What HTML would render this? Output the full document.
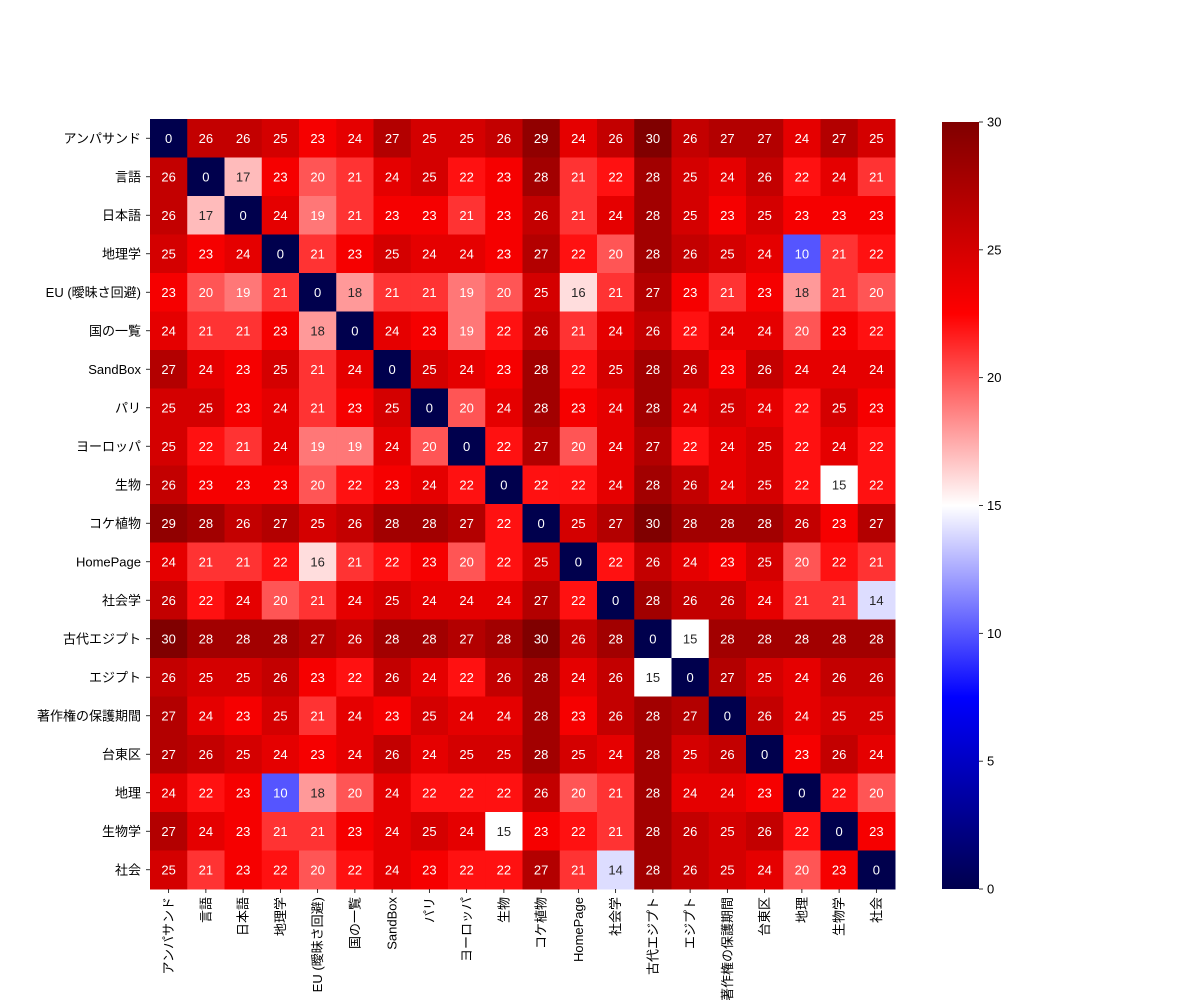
<!DOCTYPE html>
<html><head><meta charset="utf-8"><style>
html,body{margin:0;padding:0;background:#fff}
svg text{font-family:"Liberation Sans","Noto Sans CJK JP",sans-serif;font-size:13px}
</style></head><body>
<svg id="chart" width="1200" height="1000" xmlns="http://www.w3.org/2000/svg">
<defs><linearGradient id="cbg" x1="0" y1="1" x2="0" y2="0">
<stop offset="0" stop-color="rgb(0,0,77)"/><stop offset="0.25" stop-color="rgb(0,0,255)"/><stop offset="0.5" stop-color="rgb(255,255,255)"/><stop offset="0.75" stop-color="rgb(255,0,0)"/><stop offset="1" stop-color="rgb(128,0,0)"/>
</linearGradient></defs>
<g id="cells"></g>
<g id="xlabels"></g>
<g id="ylabels"></g>
<g id="cbar"></g>
</svg>
<script>
const labels = ["アンパサンド","言語","日本語","地理学","EU (曖昧さ回避)","国の一覧","SandBox","パリ","ヨーロッパ","生物","コケ植物","HomePage","社会学","古代エジプト","エジプト","著作権の保護期間","台東区","地理","生物学","社会"];
const values = [
[0,26,26,25,23,24,27,25,25,26,29,24,26,30,26,27,27,24,27,25],
[26,0,17,23,20,21,24,25,22,23,28,21,22,28,25,24,26,22,24,21],
[26,17,0,24,19,21,23,23,21,23,26,21,24,28,25,23,25,23,23,23],
[25,23,24,0,21,23,25,24,24,23,27,22,20,28,26,25,24,10,21,22],
[23,20,19,21,0,18,21,21,19,20,25,16,21,27,23,21,23,18,21,20],
[24,21,21,23,18,0,24,23,19,22,26,21,24,26,22,24,24,20,23,22],
[27,24,23,25,21,24,0,25,24,23,28,22,25,28,26,23,26,24,24,24],
[25,25,23,24,21,23,25,0,20,24,28,23,24,28,24,25,24,22,25,23],
[25,22,21,24,19,19,24,20,0,22,27,20,24,27,22,24,25,22,24,22],
[26,23,23,23,20,22,23,24,22,0,22,22,24,28,26,24,25,22,15,22],
[29,28,26,27,25,26,28,28,27,22,0,25,27,30,28,28,28,26,23,27],
[24,21,21,22,16,21,22,23,20,22,25,0,22,26,24,23,25,20,22,21],
[26,22,24,20,21,24,25,24,24,24,27,22,0,28,26,26,24,21,21,14],
[30,28,28,28,27,26,28,28,27,28,30,26,28,0,15,28,28,28,28,28],
[26,25,25,26,23,22,26,24,22,26,28,24,26,15,0,27,25,24,26,26],
[27,24,23,25,21,24,23,25,24,24,28,23,26,28,27,0,26,24,25,25],
[27,26,25,24,23,24,26,24,25,25,28,25,24,28,25,26,0,23,26,24],
[24,22,23,10,18,20,24,22,22,22,26,20,21,28,24,24,23,0,22,20],
[27,24,23,21,21,23,24,25,24,15,23,22,21,28,26,25,26,22,0,23],
[25,21,23,22,20,22,24,23,22,22,27,21,14,28,26,25,24,20,23,0]
];
const cbTicks = [0,5,10,15,20,25,30];
const vmin=0, vmax=30;
const X0=150, X1=895, Y0=119, Y1=889;
const n=labels.length, cw=(X1-X0)/n, ch=(Y1-Y0)/n;
const CB_X=942, CB_W=37, CB_T=122, CB_B=889;
const NS="http://www.w3.org/2000/svg";
function xs(i){return X0+i*cw;}
function ys(i){return Y0+i*ch;}
function cbY(v){return CB_B-(v-vmin)/(vmax-vmin)*(CB_B-CB_T);}
const stops=[[0,[0,0,0.3]],[0.25,[0,0,1]],[0.5,[1,1,1]],[0.75,[1,0,0]],[1,[0.5,0,0]]];
function cmap(v){let t=Math.max(0,Math.min(1,(v-vmin)/(vmax-vmin)));
 for(let k=0;k<stops.length-1;k++){const [a,ca]=stops[k],[b,cb]=stops[k+1];
  if(t<=b){const f=(t-a)/(b-a);return ca.map((c,j)=>c+(cb[j]-c)*f);}}
 return stops[4][1];}
function lum(c){const l=c.map(x=>x<=0.03928?x/12.92:Math.pow((x+0.055)/1.055,2.4));return 0.2126*l[0]+0.7152*l[1]+0.0722*l[2];}
function mk(tag,attrs,parent){const e=document.createElementNS(NS,tag);for(const k in attrs)e.setAttribute(k,attrs[k]);parent.appendChild(e);return e;}
const gC=document.getElementById('cells');
for(let r=0;r<n;r++)for(let c=0;c<n;c++){
 const v=values[r][c],col=cmap(v);
 const rect=mk('rect',{x:xs(c),y:ys(r),width:cw+0.5,height:ch+0.5,fill:`rgb(${col.map(x=>Math.round(x*255)).join(',')})`},gC);
 
 
 const t=mk('text',{x:xs(c)+cw/2,y:ys(r)+ch/2+4.5,'text-anchor':'middle',fill:lum(col)>0.408?'#262626':'#ffffff'},gC);
 t.textContent=v;
 
 
}
const gX=document.getElementById('xlabels'),gY=document.getElementById('ylabels');
labels.forEach((lab,i)=>{
 const cx=xs(i)+cw/2;
 mk('line',{x1:cx,y1:Y1,x2:cx,y2:Y1+4,stroke:'#000','stroke-width':0.8},gX);
 const t=mk('text',{x:0,y:0,'text-anchor':'end',transform:`translate(${cx+4.5},${Y1+8}) rotate(-90)`,fill:'#000'},gX);
 t.textContent=lab;
 
 
 const cy=ys(i)+ch/2;
 mk('line',{x1:X0-4,y1:cy,x2:X0,y2:cy,stroke:'#000','stroke-width':0.8},gY);
 const u=mk('text',{x:X0-9,y:cy+4.5,'text-anchor':'end',fill:'#000'},gY);
 u.textContent=lab;
 
 
});
const gB=document.getElementById('cbar');
const bar=mk('rect',{x:CB_X,y:CB_T,width:CB_W,height:CB_B-CB_T,fill:'url(#cbg)'},gB);


cbTicks.forEach(v=>{
 const y=cbY(v);
 mk('line',{x1:CB_X+CB_W,y1:y,x2:CB_X+CB_W+4,y2:y,stroke:'#000','stroke-width':0.8},gB);
 const t=mk('text',{x:CB_X+CB_W+8,y:y+4.5,fill:'#000'},gB);
 t.textContent=v;
 
 
});
</script>
</body></html>
